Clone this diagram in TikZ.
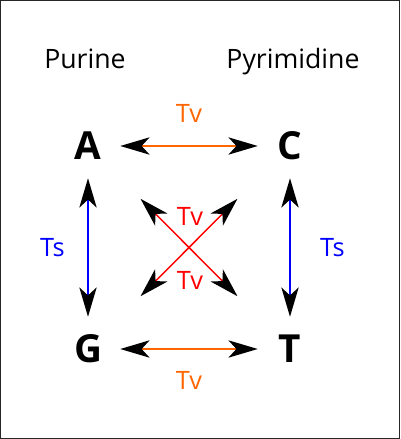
\documentclass[tikz,border=0pt]{standalone}
\usepackage{fontspec}
\setmainfont{Open Sans}
\usetikzlibrary{arrows.meta,calc}
\definecolor{tvorange}{HTML}{FF6600}
\definecolor{tsblue}{HTML}{0000FF}
\definecolor{tvred}{HTML}{FF0000}

\begin{document}
\begin{tikzpicture}[x=0.75pt,y=-0.75pt,
    >={Stealth[length=22pt,width=13pt,inset=6pt,black]},
    base/.style={font=\bfseries\fontsize{29}{35}\selectfont,minimum size=48pt,inner sep=0pt},
    group/.style={font=\fontsize{20}{24}\selectfont,anchor=base,inner sep=0pt},
    mut/.style={font=\fontsize{19}{23}\selectfont,inner sep=0pt},
    link/.style={<->,line width=1.1pt}]
\useasboundingbox (0,0) rectangle (400,439);
\draw[line width=0.75pt,black!85] (0.5,0.5) rectangle (399.5,438.5);

% Group headings
\node[group] (pur) at (85,68.5) {Purine};
\node[group] (pyr) at (293,68.5) {Pyrimidine};

% Bases
\node[base] (A) at (88,146) {A};
\node[base] (C) at (290,146) {C};
\node[base] (G) at (88,349) {G};
\node[base] (T) at (290,349) {T};

% Transversions
\draw[link,tvorange] (A) -- (C) node[midway,above=17pt,mut] {Tv};
\draw[link,tvorange] (G) -- (T) node[midway,below=16.5pt,mut] {Tv};
\draw[link,tvred] ($(A)!0.26!(T)$) -- ($(T)!0.26!(A)$);
\draw[link,tvred] ($(C)!0.26!(G)$) -- ($(G)!0.26!(C)$);
\node[mut,tvred] (tvup) at (190,216) {Tv};
\node[mut,tvred] (tvdown) at (190,280) {Tv};

% Transitions
\draw[link,tsblue] (A) -- (G) node[midway,left=17pt,mut] {Ts};
\draw[link,tsblue] (C) -- (T) node[midway,right=22pt,mut] {Ts};

\end{tikzpicture}
\end{document}
